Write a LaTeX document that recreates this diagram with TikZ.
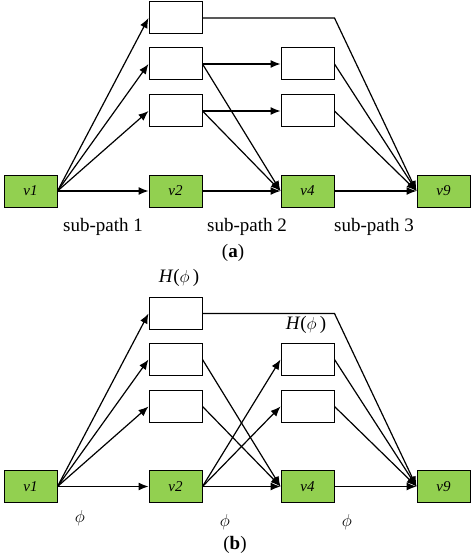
\documentclass[tikz,border=0pt]{standalone}
\usepackage{fontspec}
\setmainfont{Liberation Serif}
\usetikzlibrary{positioning,arrows.meta}
\definecolor{nodegreen}{RGB}{146,208,80}
\tikzset{
    % box styles
    greenbox/.style={
        rectangle, draw=black, line width=1pt, fill=nodegreen,
        minimum width=53pt, minimum height=32pt, inner sep=0pt,
        font=\fontsize{15}{17}\selectfont\itshape
    },
    blankbox/.style={greenbox, fill=white},
    % connector and label styles
    flow/.style={-{Latex[length=10pt,width=8pt]}, line width=1.2pt},
    caption/.style={font=\fontsize{19}{22}\selectfont}
}
\begin{document}
\begin{tikzpicture}[x=1pt,y=-1pt]
\useasboundingbox (0,0) rectangle (474,559);

% Part (a): main path
\node[greenbox] (v1a) at (30.5,191) {v1};
\node[greenbox, right=91pt of v1a] (v2a) {v2};
\node[greenbox, right=78pt of v2a] (v4a) {v4};
\node[greenbox, right=82pt of v4a] (v9a) {v9};

% Part (a): empty boxes
\node[blankbox, above=47pt of v2a] (T3a) {};
\node[blankbox, above=14pt of T3a] (T2a) {};
\node[blankbox, above=13pt of T2a] (T1a) {};
\node[blankbox, above=47pt of v4a] (R2a) {};
\node[blankbox, above=14pt of R2a] (R1a) {};
\coordinate (bendA) at (T1a.east -| v4a.east);

% Part (a): connectors
\foreach \n in {T1a,T2a,T3a,v2a}
    \draw[flow] (v1a.east) -- (\n.west);
\draw[flow] (T2a.east) -- (R1a.west);
\draw[flow] (T3a.east) -- (R2a.west);
\draw[flow] (T2a.east) -- (v4a.west);
\draw[flow] (T3a.east) -- (v4a.west);
\draw[flow] (v2a.east) -- (v4a.west);
\foreach \n in {R1a,R2a,v4a}
    \draw[flow] (\n.east) -- (v9a.west);
\draw[flow] (T1a.east) -- (bendA) -- (v9a.west);

% Part (a): labels
\node[caption] (sp1) at (103,227) {sub-path 1};
\node[caption] (sp2) at (247,227) {sub-path 2};
\node[caption] (sp3) at (374,227) {sub-path 3};
\node[caption] (capa) at (233,253) {(\textbf{a})};

% Part (b): main path
\node[greenbox] (v1b) at (30.5,486.5) {v1};
\node[greenbox, right=91pt of v1b] (v2b) {v2};
\node[greenbox, right=78pt of v2b] (v4b) {v4};
\node[greenbox, right=82pt of v4b] (v9b) {v9};

% Part (b): empty boxes
\node[blankbox, above=47pt of v2b] (T3b) {};
\node[blankbox, above=14pt of T3b] (T2b) {};
\node[blankbox, above=13pt of T2b] (T1b) {};
\node[blankbox, above=47pt of v4b] (R2b) {};
\node[blankbox, above=14pt of R2b] (R1b) {};
\coordinate (bendB) at (T1b.east -| v4b.east);

% Part (b): connectors
\foreach \n in {T1b,T2b,T3b,v2b}
    \draw[flow] (v1b.east) -- (\n.west);
\draw[flow] (v2b.east) -- (R1b.west);
\draw[flow] (v2b.east) -- (R2b.west);
\draw[flow] (T2b.east) -- (v4b.west);
\draw[flow] (T3b.east) -- (v4b.west);
\draw[flow] (v2b.east) -- (v4b.west);
\foreach \n in {R1b,R2b,v4b}
    \draw[flow] (\n.east) -- (v9b.west);
\draw[flow] (T1b.east) -- (bendB) -- (v9b.west);

% Part (b): labels
\node[caption] (h1) at (179,278) {\textit{H}($\phi$\,)};
\node[caption] (h2) at (306,325) {\textit{H}($\phi$\,)};
\node[caption] (phi1) at (80,518) {$\phi$};
\node[caption] (phi2) at (225,522) {$\phi$};
\node[caption] (phi3) at (347,522) {$\phi$};
\node[caption] (capb) at (235,545) {(\textbf{b})};

\end{tikzpicture}
\end{document}
